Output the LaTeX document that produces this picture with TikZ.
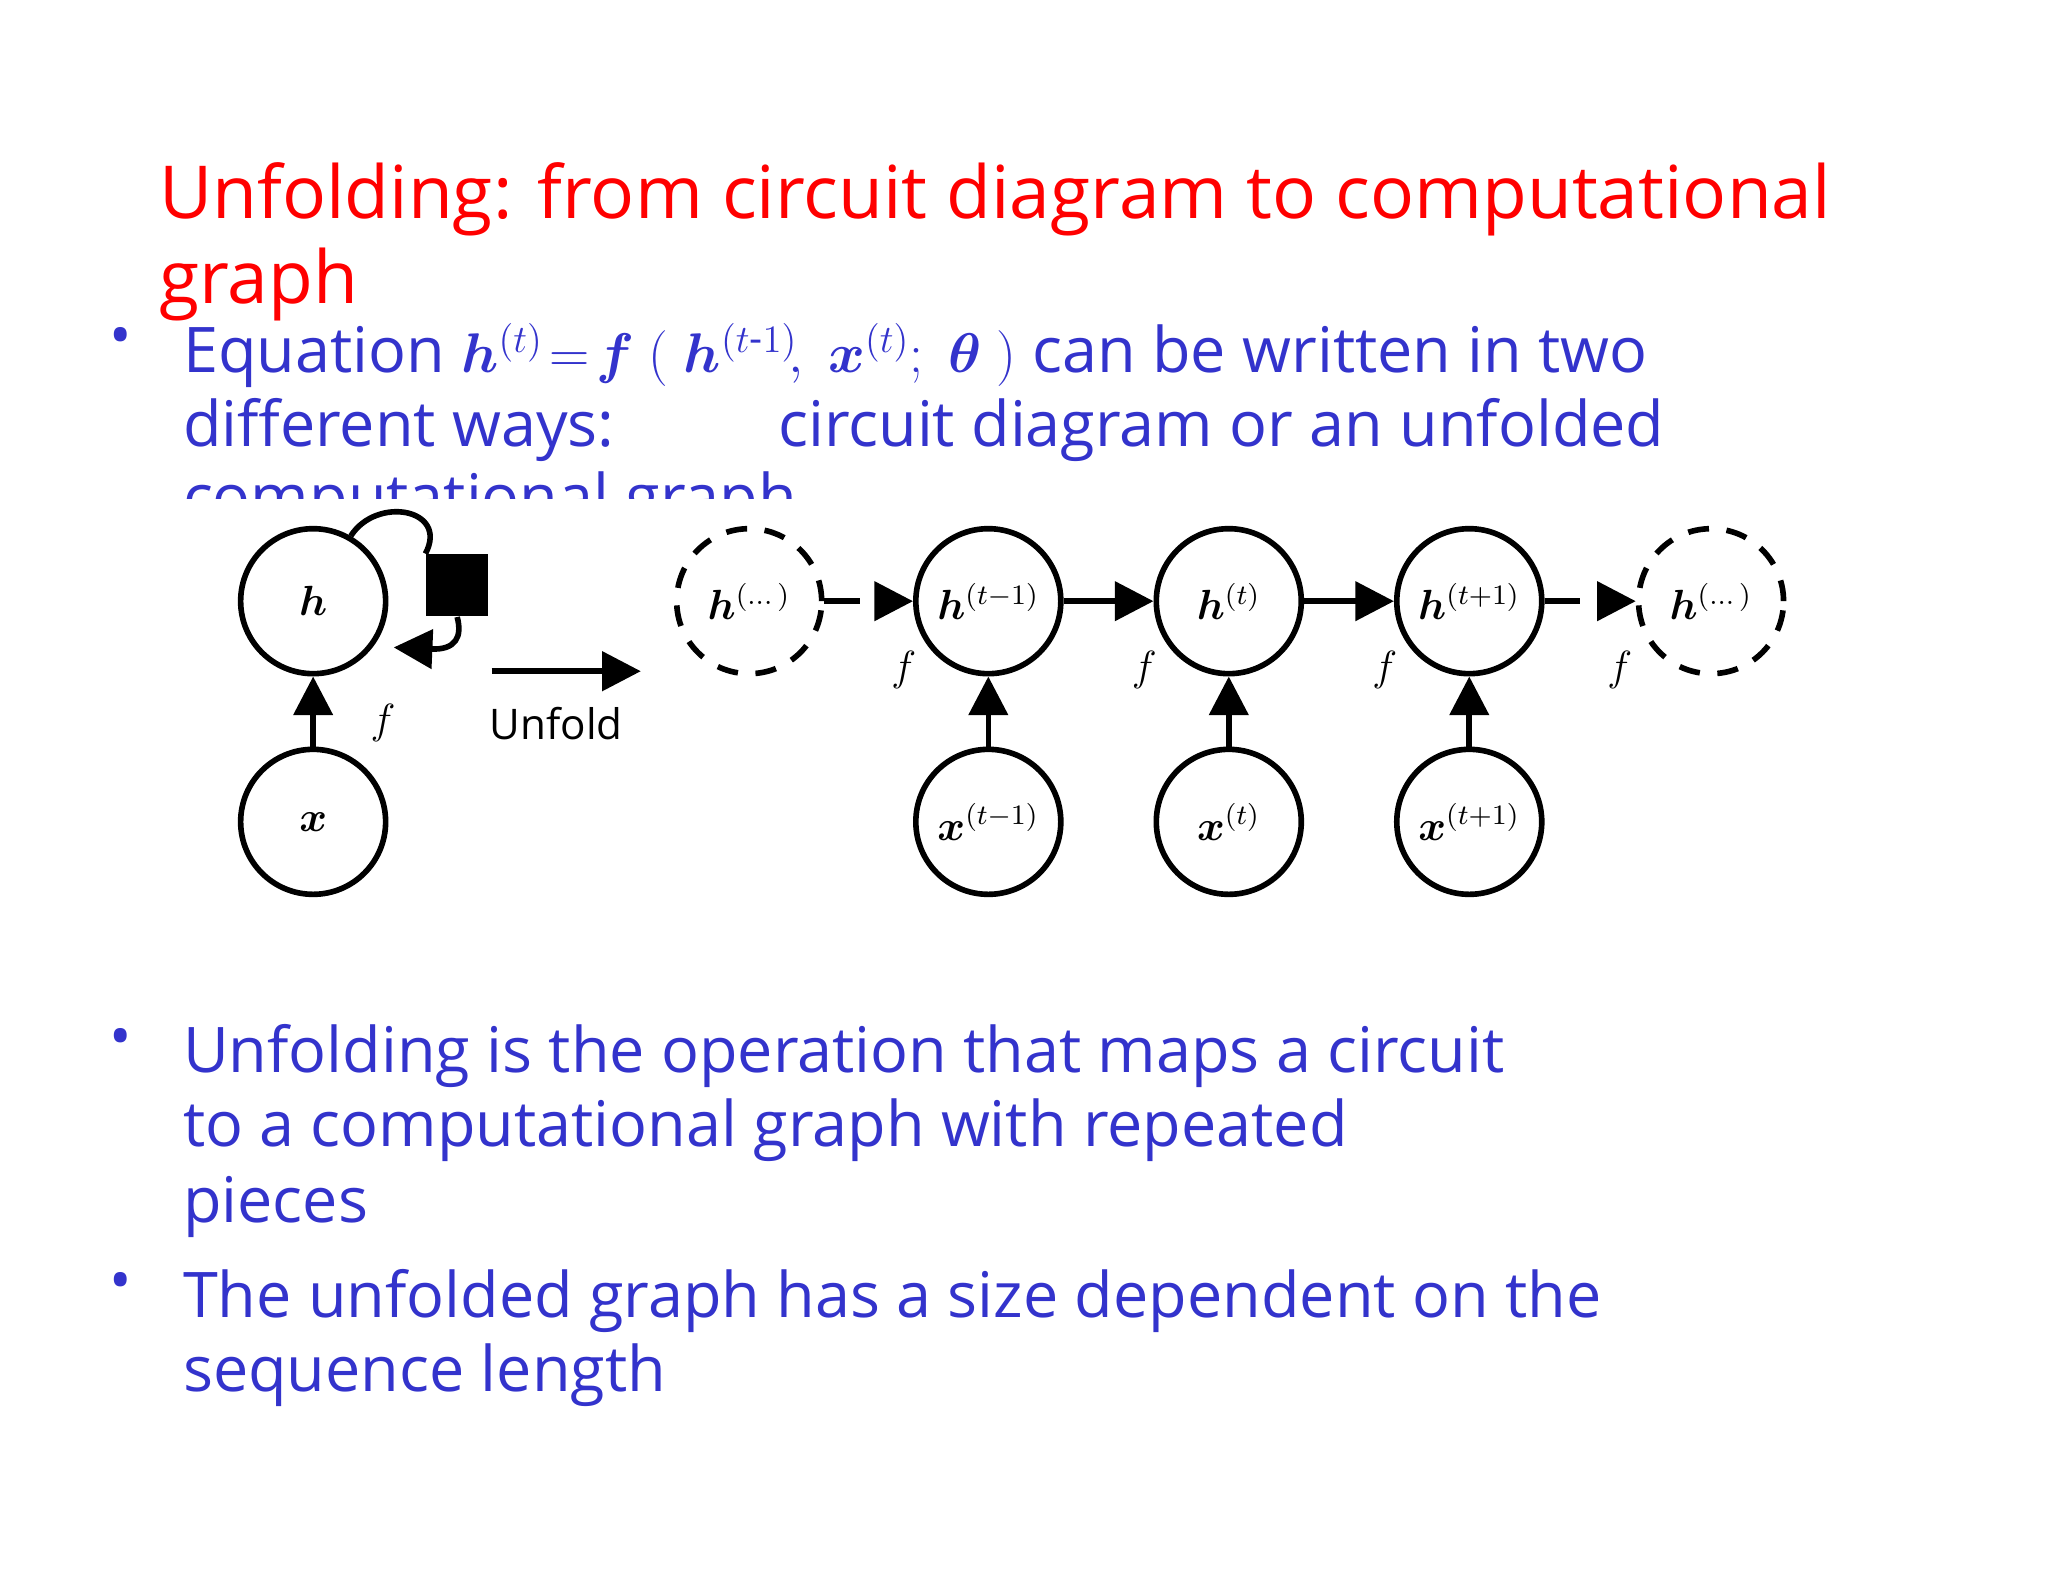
\documentclass[tikz,border=0pt]{standalone}
\usepackage{fontspec}
\usepackage{amsmath,bm}
\setmainfont{Open Sans}
\usetikzlibrary{arrows.meta}
\definecolor{bl}{HTML}{3333CC}
\tikzset{
 txt/.style={anchor=base west,inner sep=0,text=bl,font=\fontsize{17.9}{20}\selectfont},
 bul/.style={anchor=base,inner sep=0,text=bl,font=\fontsize{17}{14}\selectfont},
 cir/.style={circle,draw,line width=1.6pt,minimum size=1.45cm,inner sep=0,font=\large},
 dcir/.style={cir,dash pattern=on 6pt off 5pt},
 arr/.style={line width=1.6pt,-{Triangle[length=11pt,width=11pt]}},
 lab/.style={inner sep=0,font=\large}
}
\begin{document}
\begin{tikzpicture}[x=0.01321cm,y=-0.01321cm]
\useasboundingbox (0,0) rectangle (1550,1197);
\node[anchor=base west,inner sep=0,text=red,font=\fontsize{20.8}{24}\selectfont] (t1) at (120,165) {Unfolding: from circuit diagram to computational};
\node[anchor=base west,inner sep=0,text=red,font=\fontsize{20.8}{24}\selectfont] (t2) at (120,230) {graph};
\node[bul] (b1) at (91,270) {•};
\node[txt] (l1) at (138,282) {Equation \scalebox{0.92}{$\bm{h}^{(t)}\!=\!\bm{f}\ \mathrm{(}\ \bm{h}^{(t\text{-}1)}\!,\ \bm{x}^{(t)};\ \bm{\theta}\ \mathrm{)}$} can be written in two};
\node[txt] (l2) at (138,338) {different ways:\hspace{2.6em}circuit diagram or an unfolded};
\node[txt] (l3) at (138,393) {computational graph};
\fill[white] (130,378) rectangle (1400,700);
% circuit
\node[cir] (h) at (237,455) {$\bm h$};
\node[cir] (x) at (237,622) {$\bm x$};
\node[fill,minimum size=0.62cm,inner sep=0] (sq) at (346,443) {};
\draw[arr] (x) -- (h);
\draw[line width=1.6pt] (h.60) .. controls (285,375) and (340,385) .. (sq.north west);
\coordinate (se) at (298,490);
\draw[arr] (sq.south) .. controls (350,482) and (345,492) .. (se);
\node[lab] (fa) at (290,547) {$f$};
\coordinate (u1) at (372,508); \coordinate (u2) at (485,508);
\draw[arr] (u1) -- (u2);
\node[lab] (un) at (421,548) {$\mathrm{Unfold}$};
% unfolded
\node[dcir] (h0) at (567,455) {$\bm h^{(\dots)}$};
\node[cir] (h1) at (748,455) {$\bm h^{(t-1)}$};
\node[cir] (h2) at (930,455) {$\bm h^{(t)}$};
\node[cir] (h3) at (1112,455) {$\bm h^{(t+1)}$};
\node[dcir] (h4) at (1295,455) {$\bm h^{(\dots)}$};
\node[cir] (x1) at (748,622) {$\bm x^{(t-1)}$};
\node[cir] (x2) at (930,622) {$\bm x^{(t)}$};
\node[cir] (x3) at (1112,622) {$\bm x^{(t+1)}$};
\draw[arr,dash pattern=on 10pt off 6pt] (h0) -- (h1);
\draw[arr] (h1) -- (h2);
\draw[arr] (h2) -- (h3);
\draw[arr,dash pattern=on 10pt off 6pt] (h3) -- (h4);
\draw[arr] (x1) -- (h1);
\draw[arr] (x2) -- (h2);
\draw[arr] (x3) -- (h3);
\node[lab] (f1) at (684,507) {$f$};
\node[lab] (f2) at (866,507) {$f$};
\node[lab] (f3) at (1048,507) {$f$};
\node[lab] (f4) at (1226,507) {$f$};
% bullets
\node[bul] (b2) at (91,800) {•};
\node[txt] (m1) at (138,812) {Unfolding is the operation that maps a circuit};
\node[txt] (m2) at (138,868) {to a computational graph with repeated};
\node[txt] (m3) at (138,925) {pieces};
\node[bul] (b3) at (91,985) {•};
\node[txt] (n1) at (138,997) {The unfolded graph has a size dependent on the};
\node[txt] (n2) at (138,1053) {sequence length};
\end{tikzpicture}
\end{document}
